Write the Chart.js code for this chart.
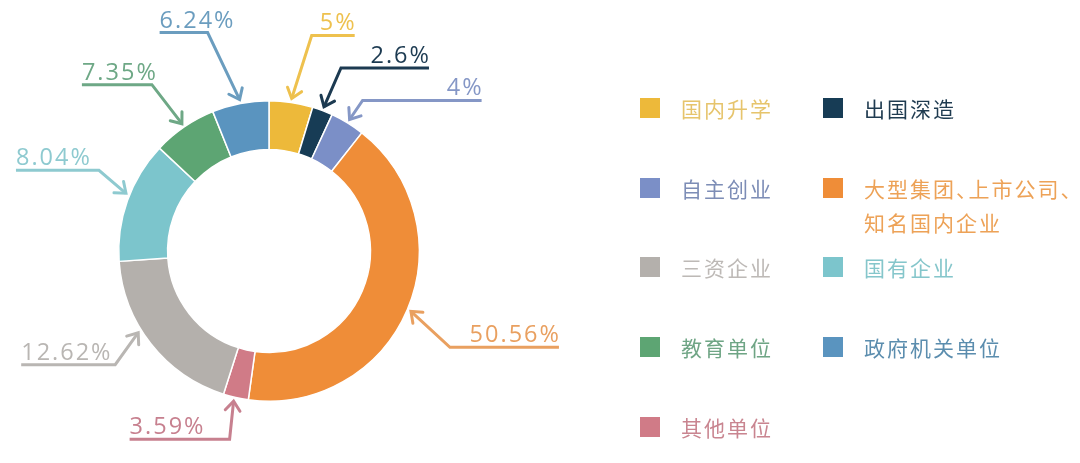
<!DOCTYPE html>
<html>
<head>
<meta charset="utf-8">
<script src="https://cdn.jsdelivr.net/npm/chart.js@4/dist/chart.umd.min.js"></script>
<style>
html,body{margin:0;padding:0;background:#fff;width:1080px;height:463px;overflow:hidden;}
#wrap{position:relative;width:1080px;height:463px;}
#c{position:absolute;left:0;top:0;}
#legend{position:absolute;left:0;top:0;width:1080px;height:463px;pointer-events:none;font-family:"Noto Sans CJK SC","Noto Sans",sans-serif;}
.sw{position:absolute;width:20px;height:20px;}
.tx{position:absolute;font-size:21px;letter-spacing:2px;line-height:34px;font-feature-settings:"halt";white-space:normal;}
</style>
</head>
<body>
<div id="wrap">
  <canvas id="c" width="1080" height="463"></canvas>
  <div id="legend"></div>
</div>
<script>
// ---- data (slice order, clockwise from 12 o'clock) ----
const categories = ['国内升学','出国深造','自主创业','大型集团、上市公司、知名国内企业','其他单位','三资企业','国有企业','教育单位','政府机关单位'];
// slice sizes as drawn in the picture (measured from the arc angles)
const arcShares = [4.7, 2.2, 3.7, 41.6, 2.7, 19.0, 13.1, 6.9, 6.1];
// percentages printed on the callouts
const printedPercents = ['5%','2.6%','4%','50.56%','3.59%','12.62%','8.04%','7.35%','6.24%'];
// legend reading order (indices into categories)
const legendOrder = [0,1,2,3,5,6,7,8,4];

// ---- styles ----
const sliceColors = ['#EDB93A','#173C55','#7B8FC7','#EF8D38','#D07B87','#B4B0AC','#7CC5CC','#5DA573','#5A94BF'];
const labelColors = ['#EEC14E','#1C3A51','#8597C6','#E9A060','#C7808F','#B9B6B3','#8ECAD0','#6EA886','#6B9DBF'];
const legendTextColors = ['#E6C46C','#1F3B50','#7D8DB6','#EDA257','#C98590','#BDB9B6','#85C6CB','#6FA585','#5B8DAE'];
// callout geometry: where along the arc the arrow points, elbow offset from arrow tip,
// and signed length of the horizontal rule under the text
const calloutTipFrac = [0.5,0.5,0.5,0.5,0.55,0.59,0.55,0.5,0.5];
const calloutElbow = [[20,-63],[17,-39],[13,-19],[39,36],[-4,38],[-23,32],[-27,-23],[-30,-39],[-32,-67]];
const calloutRule = [43,88,119,109,-100,-94,-83,-70,-48];

const calloutPlugin = {
  id:'callouts',
  afterDatasetsDraw(chart){
    const ctx = chart.ctx;
    const meta = chart.getDatasetMeta(0);
    meta.data.forEach((arc,i)=>{
      const p = arc.getProps(['x','y','startAngle','endAngle','outerRadius'], true);
      const ang = p.startAngle + (p.endAngle - p.startAngle)*calloutTipFrac[i];
      const r = p.outerRadius + 4;
      const tx = p.x + Math.cos(ang)*r, ty = p.y + Math.sin(ang)*r;
      const ex = tx + calloutElbow[i][0], ey = ty + calloutElbow[i][1];
      const lx = ex + calloutRule[i];
      const col = labelColors[i];
      ctx.save();
      ctx.strokeStyle = col; ctx.lineWidth = 3; ctx.lineJoin='miter'; ctx.lineCap='butt';
      ctx.beginPath(); ctx.moveTo(tx,ty); ctx.lineTo(ex,ey); ctx.lineTo(lx,ey); ctx.stroke();
      // chevron arrow head
      let ux = tx-ex, uy = ty-ey; const L = Math.hypot(ux,uy); ux/=L; uy/=L;
      const a = 38*Math.PI/180, len = 12;
      const rot=(x,y,t)=>[x*Math.cos(t)-y*Math.sin(t), x*Math.sin(t)+y*Math.cos(t)];
      const [ax,ay]=rot(ux,uy,a), [bx,by]=rot(ux,uy,-a);
      ctx.lineCap='round';
      ctx.beginPath();
      ctx.moveTo(tx-ax*len, ty-ay*len); ctx.lineTo(tx,ty); ctx.lineTo(tx-bx*len, ty-by*len);
      ctx.stroke();
      // text
      ctx.fillStyle = col;
      ctx.font = '400 23.5px "Open Sans", "Noto Sans", sans-serif';
      try{ ctx.letterSpacing = '2px'; }catch(e){}
      ctx.textBaseline = 'alphabetic';
      const txt = printedPercents[i];
      if (calloutRule[i] < 0){ ctx.textAlign='left'; ctx.fillText(txt, lx, ey-5); }
      else { ctx.textAlign='right'; ctx.fillText(txt, lx+2, ey-5); }
      ctx.restore();
    });
  }
};

new Chart(document.getElementById('c'), {
  type:'doughnut',
  data:{ labels:categories, datasets:[{ data:arcShares, backgroundColor:sliceColors, borderColor:'#ffffff', borderWidth:1.5, hoverOffset:0 }]},
  options:{
    responsive:false, animation:false, devicePixelRatio:1,
    cutout:'67.5%',
    layout:{ padding:{ left:118, top:100, right:660, bottom:61 } },
    plugins:{ legend:{display:false}, tooltip:{enabled:false} }
  },
  plugins:[calloutPlugin]
});

// ---- legend (HTML) ----
const legendColX = [640, 823];
const legendRowY = [108, 188, 267, 347, 427];
const legendTextW = [150, 214];
const lg = document.getElementById('legend');
legendOrder.forEach((idx,k)=>{
  const row = Math.floor(k/2), col = k%2;
  const sw = document.createElement('div');
  sw.className='sw'; sw.style.left=legendColX[col]+'px'; sw.style.top=(legendRowY[row]-10)+'px';
  sw.style.background = sliceColors[idx];
  lg.appendChild(sw);
  const t = document.createElement('div');
  t.className='tx'; t.style.left=(legendColX[col]+41)+'px'; t.style.top=(legendRowY[row]-17)+'px';
  t.style.width = legendTextW[col]+'px';
  t.style.color = legendTextColors[idx];
  t.textContent = categories[idx];
  lg.appendChild(t);
});
</script>
</body>
</html>
